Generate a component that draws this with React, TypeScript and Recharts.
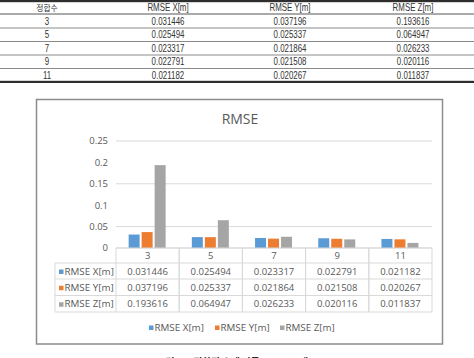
import React from 'react';
import { BarChart, Bar, XAxis, YAxis, CartesianGrid } from 'recharts';

// ---------- data ----------
const categories = ['3', '5', '7', '9', '11'];
const rmseX = [0.031446, 0.025494, 0.023317, 0.022791, 0.021182];
const rmseY = [0.037196, 0.025337, 0.021864, 0.021508, 0.020267];
const rmseZ = [0.193616, 0.064947, 0.026233, 0.020116, 0.011837];
const seriesNames = ['RMSE X[m]', 'RMSE Y[m]', 'RMSE Z[m]'];
const seriesKeys = ['x', 'y', 'z'];
const seriesColors = ['#5B9BD5', '#ED7D31', '#A5A5A5'];
const yTicks = [0, 0.05, 0.1, 0.15, 0.2, 0.25];
const firstHeader = '정합수';
const chartTitle = 'RMSE';
const caption = '그림 10. 정합점 수에 따른 RMSE 그래프';

const seriesValues = [rmseX, rmseY, rmseZ];
const data = categories.map((c, i) => ({ cat: c, x: rmseX[i], y: rmseY[i], z: rmseZ[i] }));

// ---------- layout ----------
const W = 474;
const H = 358;
const PLOT_LEFT = 116;
const PLOT_RIGHT = 432;
const PLOT_TOP = 141;
const PLOT_BOTTOM = 248;
const XAXIS_H = 64;
const HALF_BAND = (PLOT_RIGHT - PLOT_LEFT) / categories.length / 2;
const ROW_EDGES = [0, 15, 31, 47.5, 64];
const TABLE_LEFT = 55;
const chartFont = "'Open Sans', 'Noto Sans', sans-serif";
const textColor = '#595959';
const lineColor = '#d9d9d9';

const fmt = (v: number) => v.toFixed(6);

function TableTick(props: any) {
  const { x, y, payload } = props;
  const i = payload && typeof payload.index === 'number' ? payload.index : props.index;
  const l = x - HALF_BAND;
  const r = x + HALF_BAND;
  const rowMid = (k: number) => y + (ROW_EDGES[k] + ROW_EDGES[k + 1]) / 2;
  return (
    <g>
      {ROW_EDGES.slice(1).map((e, k) => (
        <line key={'h' + k} x1={i === 0 ? TABLE_LEFT : l} x2={r} y1={y + e} y2={y + e} stroke={lineColor} strokeWidth={1} />
      ))}
      <line x1={l} x2={l} y1={y} y2={y + ROW_EDGES[4]} stroke={lineColor} strokeWidth={1} />
      <line x1={r} x2={r} y1={y} y2={y + ROW_EDGES[4]} stroke={lineColor} strokeWidth={1} />
      {i === 0 && (
        <line x1={TABLE_LEFT} x2={TABLE_LEFT} y1={y + ROW_EDGES[1]} y2={y + ROW_EDGES[4]} stroke={lineColor} strokeWidth={1} />
      )}
      <text x={x} y={rowMid(0)} textAnchor="middle" dominantBaseline="central" fontSize={9.5} fill={textColor} fontFamily={chartFont}>
        {categories[i]}
      </text>
      {seriesValues.map((vals, s) => (
        <text key={'v' + s} x={x} y={rowMid(s + 1)} textAnchor="middle" dominantBaseline="central" fontSize={9.5} fill={textColor} fontFamily={chartFont}>
          {fmt(vals[i])}
        </text>
      ))}
      {i === 0 &&
        seriesNames.map((n, s) => (
          <g key={'n' + s}>
            <rect x={TABLE_LEFT + 4} y={rowMid(s + 1) - 1.5} width={4.5} height={4.5} fill={seriesColors[s]} />
            <text x={TABLE_LEFT + 9.5} y={rowMid(s + 1)} textAnchor="start" dominantBaseline="central" fontSize={9.8} fill={textColor} fontFamily={chartFont}>
              {n}
            </text>
          </g>
        ))}
    </g>
  );
}

const topColX = [47, 168, 290, 413];
const topRowY = [7.5, 21.5, 35, 48.5, 62, 75.3];
const topLineY = [14, 28, 41.5, 55, 68.5];
const topFont = "'Liberation Sans', Arial, sans-serif";
const TOP_SQUEEZE = 0.79;
const legendX = [149, 215, 280];

function TopText({ x, y, children, cjk }: { x: number; y: number; children: any; cjk?: boolean }) {
  return (
    <text
      transform={`translate(${x},${y}) scale(${cjk ? 0.92 : TOP_SQUEEZE},1)`}
      x={0}
      y={0}
      textAnchor="middle"
      dominantBaseline="central"
      fontSize={cjk ? 8.5 : 10}
      fill="#333"
      fontFamily={cjk ? "'Noto Sans CJK KR', sans-serif" : topFont}
    >
      {children}
    </text>
  );
}

export default function App() {
  const header = [firstHeader, ...seriesNames];
  return (
    <div style={{ position: 'absolute', left: 0, top: 0, width: W, height: H, background: '#fff', overflow: 'hidden' }}>
      <svg width={W} height={H} style={{ position: 'absolute', left: 0, top: 0 }}>
        {/* top table */}
        <rect x={0} y={0} width={W} height={2.2} fill="#2e2e2e" />
        {topLineY.map((ly, k) => (
          <line key={k} x1={0} x2={W} y1={ly} y2={ly} stroke={k === 0 ? '#555' : '#8a8a8a'} strokeWidth={1} />
        ))}
        <rect x={0} y={80.8} width={W} height={2.2} fill="#2e2e2e" />
        {header.map((h, c) => (
          <TopText key={'th' + c} x={topColX[c]} y={topRowY[0]} cjk={c === 0}>
            {h}
          </TopText>
        ))}
        {categories.map((cat, r) => (
          <g key={'tr' + r}>
            <TopText x={topColX[0]} y={topRowY[r + 1]}>{cat}</TopText>
            {seriesValues.map((vals, s) => (
              <TopText key={s} x={topColX[s + 1]} y={topRowY[r + 1]}>
                {fmt(vals[r])}
              </TopText>
            ))}
          </g>
        ))}

        {/* chart box */}
        <rect x={36.5} y={99.5} width={406} height={244.5} fill="#fff" stroke="#8c8c8c" strokeWidth={1.5} />
        <text x={240} y={118.5} textAnchor="middle" dominantBaseline="central" fontSize={14} fill={textColor} fontFamily={chartFont}>
          {chartTitle}
        </text>

        {/* legend */}
        {seriesNames.map((n, s) => (
          <g key={'lg' + s}>
            <rect x={legendX[s]} y={325.5} width={4.5} height={4.5} fill={seriesColors[s]} />
            <text x={legendX[s] + 5.5} y={327.8} textAnchor="start" dominantBaseline="central" fontSize={9.8} fill={textColor} fontFamily={chartFont}>
              {n}
            </text>
          </g>
        ))}

        {/* caption (cut off by page bottom, as in the source image) */}
        <text x={237} y={368} textAnchor="middle" fontSize={12} fontWeight="bold" fill="#222"
          fontFamily="'Noto Sans CJK KR', sans-serif" textLength={160} lengthAdjust="spacingAndGlyphs">
          {caption}
        </text>
      </svg>

      <div style={{ position: 'absolute', left: 0, top: 0 }}>
        <BarChart
          width={W}
          height={H}
          data={data}
          margin={{ top: PLOT_TOP, right: W - PLOT_RIGHT, bottom: H - PLOT_BOTTOM - XAXIS_H, left: PLOT_LEFT - 60 }}
          barCategoryGap="20%"
          barGap={2}
        >
          <CartesianGrid vertical={false} stroke={lineColor} strokeWidth={1} />
          <XAxis
            dataKey="cat"
            height={XAXIS_H}
            tickSize={0}
            tickMargin={0}
            tickLine={false}
            axisLine={{ stroke: lineColor }}
            interval={0}
            tick={<TableTick />}
          />
          <YAxis
            width={60}
            domain={[0, 0.25]}
            ticks={yTicks}
            axisLine={false}
            tickLine={false}
            tick={{ fontSize: 9.5, fill: textColor, fontFamily: chartFont }}
          />
          {seriesKeys.map((k, s) => (
            <Bar key={k} dataKey={k} name={seriesNames[s]} fill={seriesColors[s]} isAnimationActive={false} />
          ))}
        </BarChart>
      </div>
    </div>
  );
}
